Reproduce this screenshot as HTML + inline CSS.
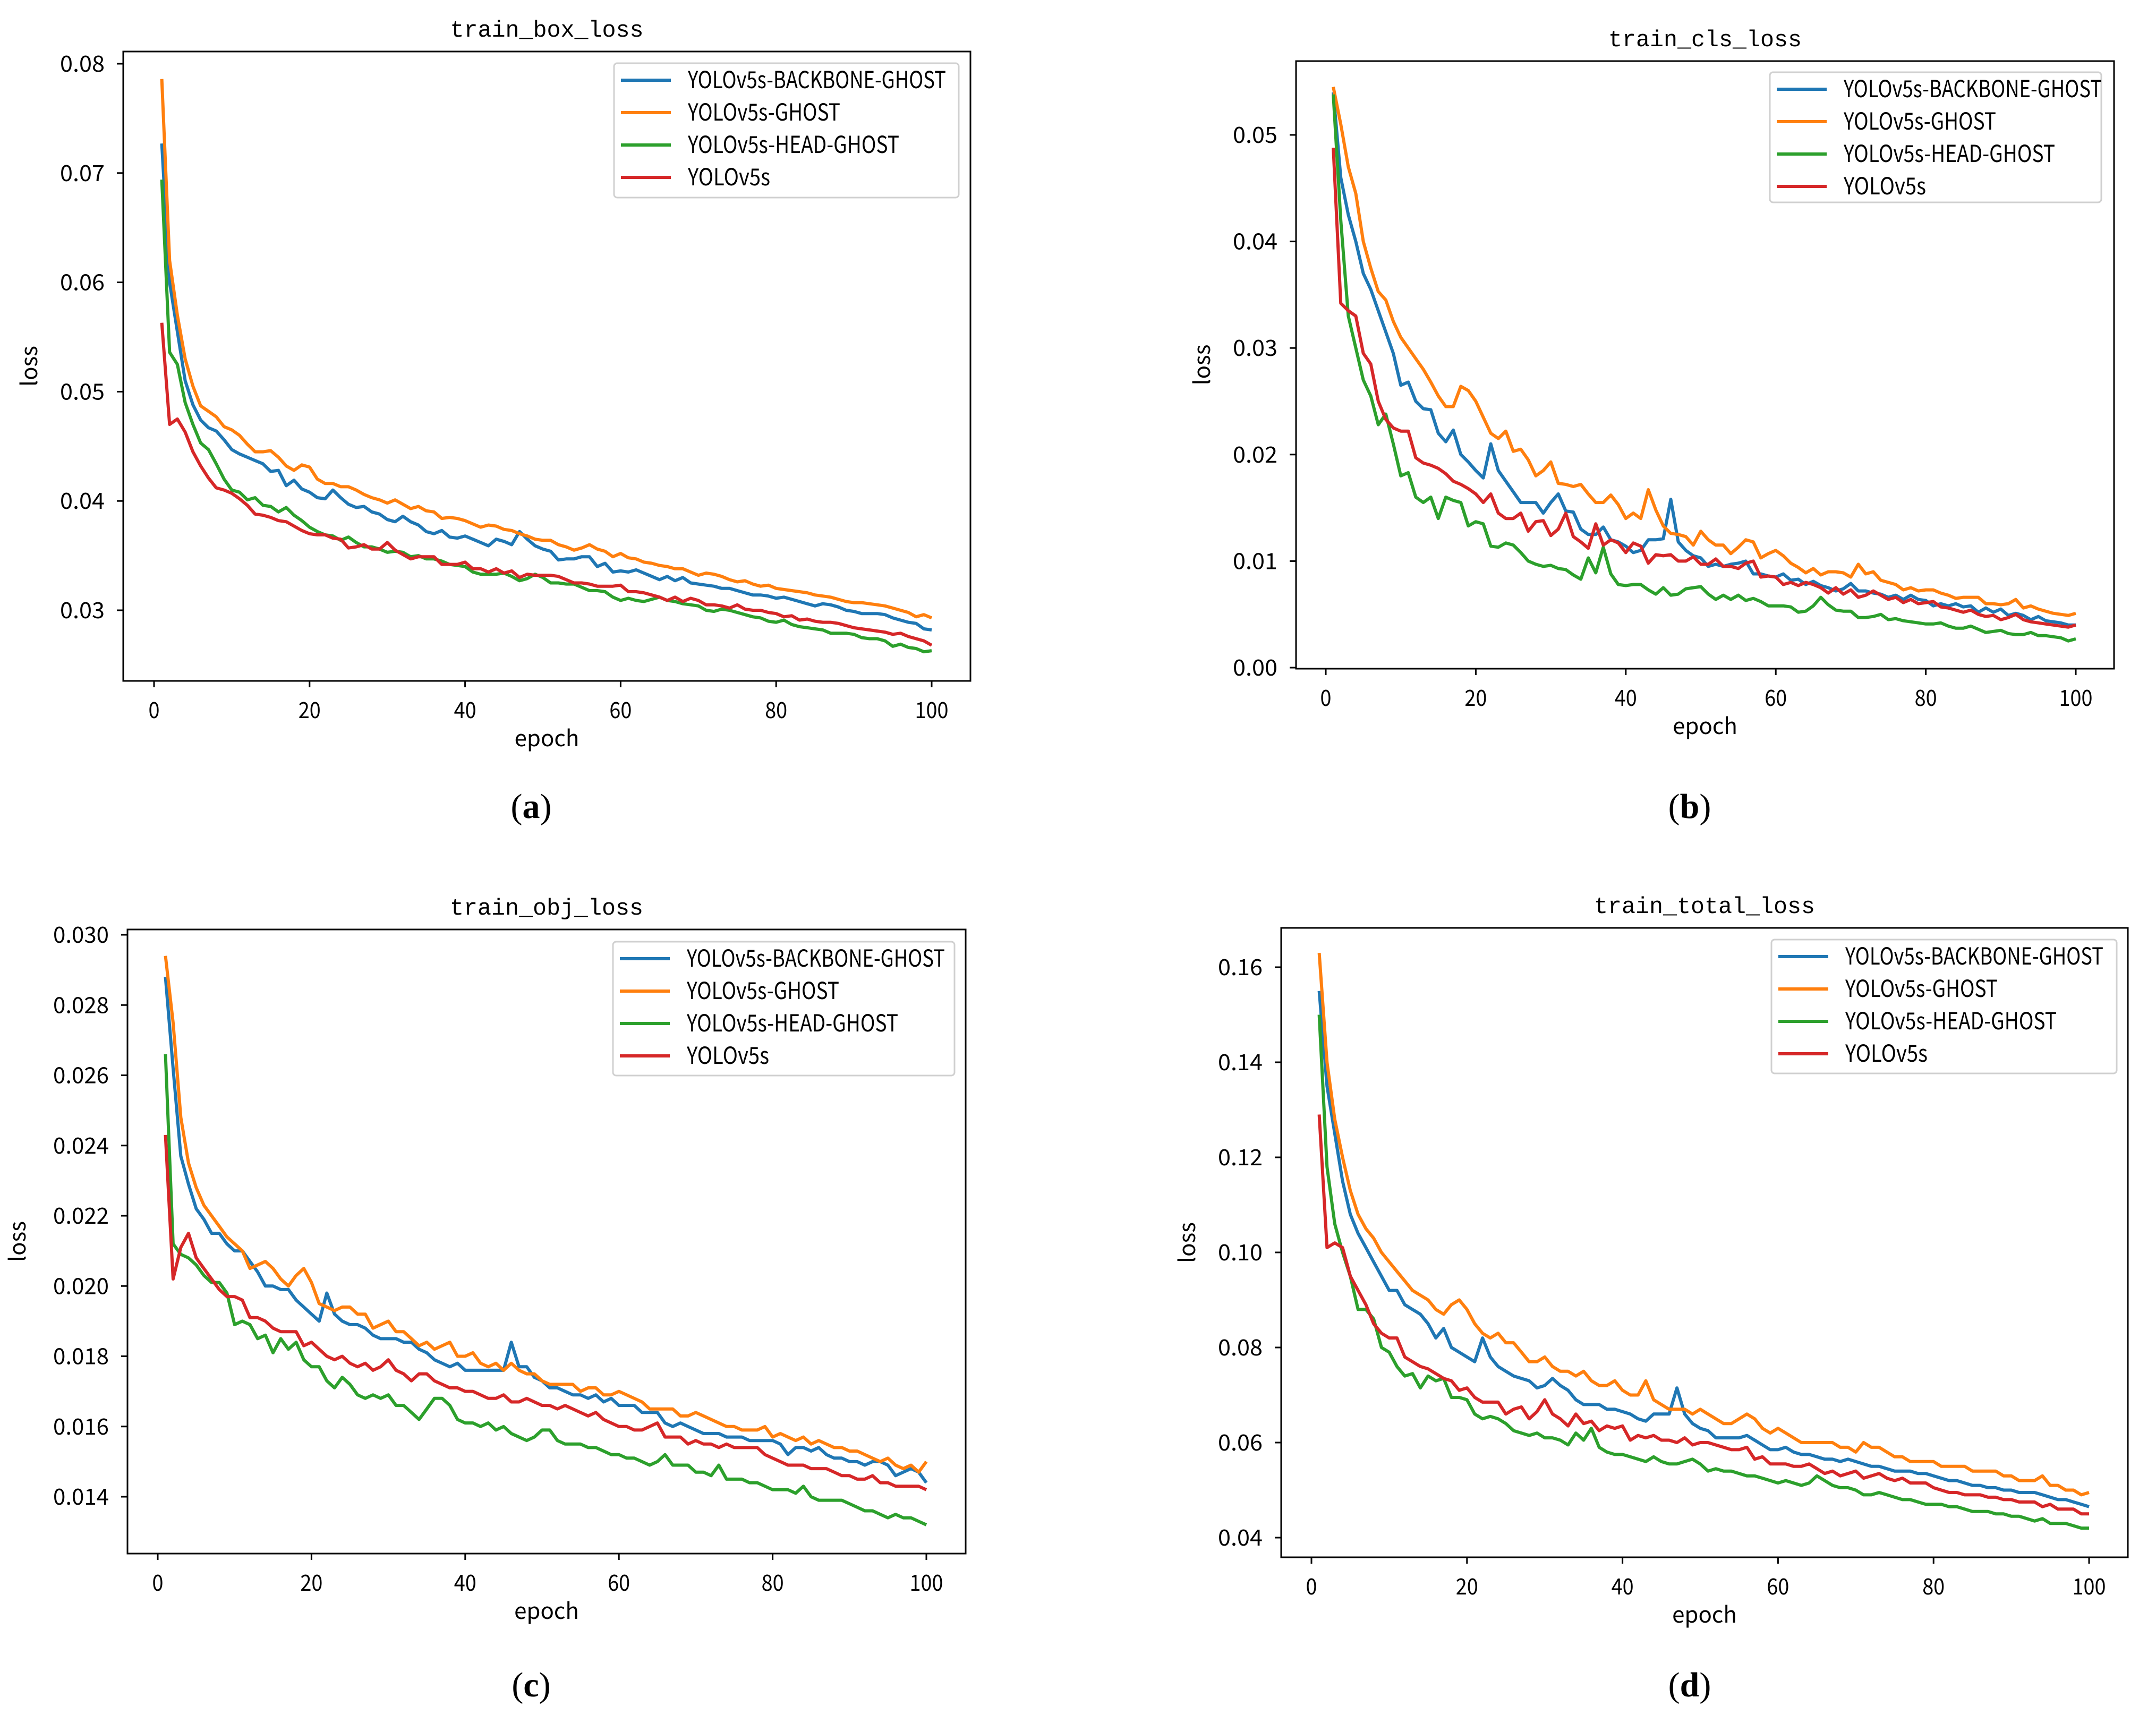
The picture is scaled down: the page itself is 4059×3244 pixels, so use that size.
<!DOCTYPE html>
<html><head><meta charset="utf-8"><style>
html,body{margin:0;padding:0;background:#fff}
svg{display:block}
text{font-family:"WenQuanYi Zen Hei","Noto Sans CJK SC","Liberation Sans",sans-serif;fill:#000}
.title{font-family:"Liberation Mono","DejaVu Sans Mono",monospace;font-size:44px}
.tick{font-size:42px}
.leg{font-size:44px}
.plabel{font-family:"Liberation Serif",serif;font-size:66px}
</style></head><body>
<svg id="fig" width="4059" height="3244" viewBox="0 0 4059 3244" xmlns="http://www.w3.org/2000/svg"></svg>
<script>
const epochs = Array.from({length:100},(_,i)=>i+1);
const seriesNames = ["YOLOv5s-BACKBONE-GHOST","YOLOv5s-GHOST","YOLOv5s-HEAD-GHOST","YOLOv5s"];
const seriesColors = ["#1f77b4","#ff7f0e","#2ca02c","#d62728"];

const boxBackbone=[.0727,.060,.0555,.051,.0488,.0474,.0467,.0464,.0456,.0447,.0443,.044,.0437,.0434,.0427,.0428,.0414,.0419,.0411,.0408,.0403,.0402,.041,.0403,.0397,.0394,.0395,.039,.0388,.0383,.0381,.0386,.0381,.0378,.0372,.037,.0373,.0367,.0366,.0368,.0365,.0362,.0359,.0365,.0363,.036,.0372,.0365,.0359,.0356,.0354,.0346,.0347,.0347,.0349,.0349,.034,.0343,.0335,.0336,.0335,.0337,.0334,.0331,.0328,.0331,.0327,.033,.0325,.0324,.0323,.0322,.032,.032,.0318,.0316,.0314,.0314,.0313,.0311,.0312,.031,.0308,.0306,.0304,.0306,.0305,.0303,.03,.0299,.0297,.0297,.0297,.0296,.0293,.0291,.0289,.0288,.0283,.0282];
const boxGhost=[.0786,.062,.057,.053,.0505,.0487,.0482,.0477,.0468,.0465,.046,.0452,.0445,.0445,.0446,.044,.0432,.0428,.0433,.0431,.042,.0416,.0416,.0413,.0413,.041,.0406,.0403,.0401,.0398,.0401,.0397,.0393,.0395,.0391,.039,.0384,.0385,.0384,.0382,.0379,.0376,.0378,.0377,.0374,.0373,.037,.0368,.0365,.0364,.0364,.036,.0358,.0355,.0357,.036,.0356,.0354,.0349,.0352,.0348,.0347,.0344,.0343,.0341,.034,.0338,.0338,.0335,.0332,.0334,.0333,.0331,.0328,.0326,.0327,.0324,.0322,.0323,.032,.0319,.0318,.0317,.0316,.0314,.0313,.0312,.031,.0308,.0307,.0307,.0306,.0305,.0304,.0302,.03,.0298,.0294,.0296,.0293];
const boxHead=[.0694,.0536,.0525,.049,.047,.0453,.0447,.0434,.042,.041,.0408,.0401,.0403,.0396,.0395,.039,.0394,.0387,.0382,.0376,.0372,.0369,.0368,.0364,.0367,.0362,.0358,.0358,.0356,.0353,.0354,.0353,.0349,.035,.0347,.0347,.0345,.0342,.0341,.034,.0335,.0333,.0333,.0333,.0334,.0331,.0327,.0329,.0333,.033,.0325,.0325,.0324,.0324,.0321,.0318,.0318,.0317,.0312,.0309,.0311,.0309,.0308,.031,.0312,.0309,.0308,.0306,.0305,.0304,.03,.0299,.0301,.03,.0298,.0296,.0294,.0293,.029,.0289,.0291,.0287,.0285,.0284,.0283,.0282,.0279,.0279,.0279,.0278,.0275,.0274,.0274,.0272,.0267,.0269,.0266,.0265,.0262,.0263];
const boxBase=[.0563,.047,.0475,.0463,.0445,.0432,.0421,.0412,.041,.0407,.0402,.0396,.0388,.0387,.0385,.0382,.0381,.0377,.0373,.037,.0369,.0369,.0366,.0365,.0357,.0358,.036,.0356,.0356,.0362,.0355,.0351,.0347,.0349,.0349,.0349,.0342,.0342,.0342,.0344,.0338,.0338,.0335,.0338,.0334,.0336,.033,.0333,.0332,.0332,.0332,.0331,.0328,.0325,.0325,.0324,.0322,.0322,.0322,.0323,.0317,.0317,.0316,.0314,.0312,.0309,.0312,.0308,.0311,.0309,.0305,.0305,.0304,.0302,.0305,.0301,.03,.03,.0298,.0297,.0294,.0295,.0291,.0292,.029,.0289,.0289,.0288,.0286,.0284,.0283,.0282,.0281,.028,.0278,.0279,.0276,.0274,.0272,.0268];

const clsBackbone=[.054,.046,.0425,.040,.037,.0355,.0335,.0315,.0295,.0265,.0268,.025,.0243,.0242,.022,.0212,.0223,.020,.0193,.0185,.0178,.021,.0185,.0175,.0165,.0155,.0155,.0155,.0145,.0155,.0163,.0147,.0146,.013,.0125,.0125,.0132,.012,.0118,.0114,.0108,.011,.012,.012,.0121,.0158,.0118,.011,.0105,.0103,.0095,.0097,.0095,.0097,.0098,.01,.0088,.0088,.0086,.0085,.0088,.0082,.0083,.0078,.0081,.0077,.0075,.0072,.0074,.0079,.0072,.0072,.007,.0069,.0066,.0068,.0064,.0068,.0064,.0063,.0058,.006,.0058,.006,.0057,.0058,.0052,.0056,.0052,.0055,.0049,.0051,.0049,.0045,.0048,.0044,.0043,.0042,.004,.004];
const clsGhost=[.0545,.051,.047,.0445,.040,.0375,.0353,.0345,.0325,.031,.030,.029,.028,.0268,.0255,.0245,.0245,.0264,.026,.025,.0235,.022,.0215,.0222,.0203,.0205,.0195,.018,.0185,.0193,.0173,.0172,.017,.0172,.0163,.0155,.0155,.0162,.0153,.014,.0145,.014,.0167,.0148,.0133,.0126,.0125,.0123,.0115,.0128,.012,.0115,.0115,.0107,.0113,.012,.0118,.0103,.0107,.011,.0105,.0098,.0094,.0089,.0093,.0087,.009,.009,.0089,.0085,.0097,.0088,.009,.0082,.008,.0078,.0073,.0075,.0072,.0073,.0073,.007,.0068,.0065,.0066,.0066,.0066,.006,.006,.0059,.006,.0064,.0056,.0058,.0055,.0053,.0051,.005,.0049,.0051];
const clsHead=[.0538,.042,.033,.030,.027,.0255,.0228,.0238,.021,.018,.0183,.016,.0155,.016,.014,.016,.0157,.0155,.0133,.0137,.0135,.0114,.0113,.0117,.0115,.0108,.01,.0097,.0095,.0096,.0093,.0092,.0087,.0083,.0103,.0089,.0113,.0088,.0078,.0077,.0078,.0078,.0073,.0069,.0075,.0068,.0069,.0074,.0075,.0076,.0069,.0064,.0068,.0064,.0068,.0063,.0065,.0062,.0058,.0058,.0058,.0057,.0052,.0053,.0058,.0066,.0059,.0054,.0053,.0053,.0047,.0047,.0048,.005,.0045,.0046,.0044,.0043,.0042,.0041,.0041,.0042,.0039,.0037,.0037,.0039,.0036,.0033,.0034,.0035,.0032,.0031,.0031,.0033,.003,.003,.0029,.0028,.0025,.0027];
const clsBase=[.0488,.0342,.0335,.033,.0295,.0285,.025,.0233,.0225,.0222,.0222,.0197,.0192,.019,.0187,.0182,.0175,.0172,.0168,.0163,.0155,.0163,.0145,.014,.014,.0145,.0128,.0137,.0138,.0124,.013,.0145,.0123,.0118,.0112,.0135,.0115,.012,.0117,.0108,.0117,.0114,.0098,.0106,.0105,.0106,.01,.01,.0104,.0097,.0097,.0102,.0095,.0095,.0093,.0098,.01,.0085,.0086,.0085,.0078,.008,.0077,.008,.0078,.0075,.007,.0075,.0069,.0073,.0066,.0068,.0072,.0068,.0064,.0066,.0061,.0064,.006,.0061,.0062,.0057,.0056,.0054,.0052,.0054,.005,.0048,.0049,.0045,.0047,.005,.0045,.0043,.0042,.0041,.004,.0039,.0038,.004];

const objBackbone=[.0288,.0262,.0237,.0229,.0222,.0219,.0215,.0215,.0212,.021,.021,.0207,.0204,.02,.02,.0199,.0199,.0196,.0194,.0192,.019,.0198,.0192,.019,.0189,.0189,.0188,.0186,.0185,.0185,.0185,.0184,.0184,.0182,.0181,.0179,.0178,.0177,.0178,.0176,.0176,.0176,.0176,.0176,.0176,.0184,.0177,.0177,.0174,.0173,.0171,.0171,.017,.0169,.0169,.0168,.0169,.0167,.0168,.0166,.0166,.0166,.0164,.0164,.0164,.0161,.016,.0161,.016,.0159,.0158,.0158,.0158,.0157,.0157,.0157,.0156,.0156,.0156,.0156,.0155,.0152,.0154,.0154,.0153,.0154,.0152,.0151,.0151,.015,.015,.0149,.015,.015,.0149,.0146,.0147,.0148,.0147,.0144];
const objGhost=[.0294,.0275,.0248,.0235,.0228,.0223,.022,.0217,.0214,.0212,.021,.0205,.0206,.0207,.0205,.0202,.02,.0203,.0205,.0201,.0195,.0194,.0193,.0194,.0194,.0192,.0192,.0188,.0189,.019,.0187,.0187,.0185,.0183,.0184,.0182,.0183,.0184,.018,.018,.0181,.0178,.0177,.0178,.0176,.0178,.0176,.0175,.0175,.0173,.0172,.0172,.0172,.0172,.017,.0171,.0171,.0169,.0169,.017,.0169,.0168,.0167,.0165,.0165,.0165,.0165,.0163,.0163,.0164,.0163,.0162,.0161,.016,.016,.0159,.0159,.0159,.016,.0157,.0158,.0157,.0156,.0157,.0155,.0156,.0155,.0154,.0154,.0153,.0153,.0152,.0151,.015,.0151,.0149,.0148,.0149,.0147,.015];
const objHead=[.0266,.0212,.0209,.0208,.0206,.0203,.0201,.0201,.0198,.0189,.019,.0189,.0185,.0186,.0181,.0185,.0182,.0184,.0179,.0177,.0177,.0173,.0171,.0174,.0172,.0169,.0168,.0169,.0168,.0169,.0166,.0166,.0164,.0162,.0165,.0168,.0168,.0166,.0162,.0161,.0161,.016,.0161,.0159,.016,.0158,.0157,.0156,.0157,.0159,.0159,.0156,.0155,.0155,.0155,.0154,.0154,.0153,.0152,.0152,.0151,.0151,.015,.0149,.015,.0152,.0149,.0149,.0149,.0147,.0147,.0146,.0149,.0145,.0145,.0145,.0144,.0144,.0143,.0142,.0142,.0142,.0141,.0143,.014,.0139,.0139,.0139,.0139,.0138,.0137,.0136,.0136,.0135,.0134,.0135,.0134,.0134,.0133,.0132];
const objBase=[.0243,.0202,.0211,.0215,.0208,.0205,.0202,.0199,.0197,.0197,.0196,.0191,.0191,.019,.0188,.0187,.0187,.0187,.0183,.0184,.0182,.018,.0179,.018,.0178,.0177,.0178,.0176,.0177,.0179,.0176,.0175,.0173,.0175,.0175,.0173,.0172,.0171,.0171,.017,.017,.0169,.0168,.0168,.0169,.0167,.0167,.0168,.0167,.0166,.0166,.0165,.0166,.0165,.0164,.0163,.0164,.0162,.0161,.016,.016,.0159,.0159,.016,.0161,.0157,.0157,.0157,.0155,.0156,.0155,.0155,.0154,.0155,.0154,.0154,.0154,.0154,.0152,.0151,.015,.0149,.0149,.0149,.0148,.0148,.0148,.0147,.0146,.0146,.0145,.0145,.0146,.0144,.0144,.0143,.0143,.0143,.0143,.0142];

const totBackbone=[.155,.135,.125,.115,.108,.104,.101,.098,.095,.092,.092,.089,.088,.087,.085,.082,.084,.080,.079,.078,.077,.082,.078,.076,.075,.074,.0735,.073,.0715,.072,.0735,.072,.071,.069,.068,.068,.068,.067,.067,.0665,.066,.065,.0645,.066,.066,.066,.0715,.066,.064,.063,.0625,.061,.061,.061,.061,.0615,.0605,.0595,.0585,.0585,.059,.058,.0575,.0575,.057,.0565,.0565,.056,.0565,.056,.0555,.055,.055,.0545,.054,.054,.054,.0535,.0535,.053,.0525,.052,.052,.0515,.051,.051,.0505,.0505,.05,.05,.0495,.0495,.0495,.049,.0485,.048,.048,.0475,.047,.0465];
const totGhost=[.163,.14,.128,.12,.113,.108,.105,.103,.1,.098,.096,.094,.092,.091,.09,.088,.087,.089,.09,.088,.085,.083,.082,.083,.081,.081,.079,.077,.077,.078,.076,.075,.075,.074,.075,.073,.072,.072,.073,.071,.07,.07,.073,.069,.068,.067,.067,.067,.066,.067,.066,.065,.064,.064,.065,.066,.065,.063,.062,.063,.062,.061,.06,.06,.06,.06,.06,.059,.059,.058,.06,.059,.059,.058,.057,.057,.056,.056,.056,.056,.055,.055,.055,.055,.054,.054,.054,.054,.053,.053,.052,.052,.052,.053,.051,.051,.05,.05,.049,.0495];
const totHead=[.15,.118,.106,.1,.095,.088,.088,.086,.08,.079,.076,.074,.0745,.0715,.074,.073,.0735,.0695,.0695,.069,.066,.065,.0655,.065,.064,.0625,.062,.0615,.062,.061,.061,.0605,.0595,.062,.0605,.063,.059,.058,.0575,.0575,.057,.0565,.056,.057,.056,.0555,.0555,.056,.0565,.0555,.054,.0545,.054,.054,.0535,.053,.053,.0525,.052,.0515,.052,.0515,.051,.0515,.053,.052,.051,.0505,.0505,.05,.049,.049,.0495,.049,.0485,.048,.048,.0475,.047,.047,.047,.0465,.0465,.046,.0455,.0455,.0455,.045,.045,.0445,.0445,.044,.0435,.044,.043,.043,.043,.0425,.042,.042];
const totBase=[.129,.101,.102,.101,.095,.092,.089,.085,.083,.082,.082,.078,.077,.076,.0755,.0745,.0735,.073,.071,.0715,.0695,.0685,.0685,.0685,.066,.067,.0675,.065,.0665,.069,.066,.065,.0635,.066,.064,.0645,.0625,.0635,.063,.0635,.0605,.0615,.061,.0615,.0605,.0605,.06,.061,.0595,.06,.06,.0595,.059,.0585,.0585,.059,.0565,.057,.0555,.0555,.0555,.055,.055,.0555,.0545,.0535,.054,.053,.0535,.054,.0525,.053,.0535,.0525,.052,.0525,.0515,.0515,.0515,.0505,.05,.0495,.0495,.049,.049,.049,.0485,.0485,.048,.048,.0475,.0475,.0475,.0465,.047,.046,.046,.046,.045,.045];

const xTicks=[0,20,40,60,80,100];
const boxYTicks=[0.03,0.04,0.05,0.06,0.07,0.08];
const clsYTicks=[0.00,0.01,0.02,0.03,0.04,0.05];
const objYTicks=[0.014,0.016,0.018,0.020,0.022,0.024,0.026,0.028,0.030];
const totYTicks=[0.04,0.06,0.08,0.10,0.12,0.14,0.16];

const panels=[
 {key:"box",title:"train_box_loss",label:"a",data:[boxBackbone,boxGhost,boxHead,boxBase],yt:boxYTicks,dec:2,
  box:[232,97,1827,1282],x0:290,x100:1754,yA:[0.08,120],yB:[0.03,1149],leg:[1156,119,1805,372],plx:1000,ply:1540},
 {key:"cls",title:"train_cls_loss",label:"b",data:[clsBackbone,clsGhost,clsHead,clsBase],yt:clsYTicks,dec:2,
  box:[2440,115,3980,1259],x0:2496,x100:3908,yA:[0.05,254],yB:[0.0,1257],leg:[3332,136,3956,381],plx:3181,ply:1540},
 {key:"obj",title:"train_obj_loss",label:"c",data:[objBackbone,objGhost,objHead,objBase],yt:objYTicks,dec:3,
  box:[240,1750,1818,2925],x0:297,x100:1744,yA:[0.030,1760],yB:[0.014,2818],leg:[1154,1773,1797,2025],plx:1000,ply:3194},
 {key:"total",title:"train_total_loss",label:"d",data:[totBackbone,totGhost,totHead,totBase],yt:totYTicks,dec:2,
  box:[2412,1747,4006,2932],x0:2469,x100:3933,yA:[0.16,1821],yB:[0.04,2895],leg:[3335,1769,3985,2021],plx:3181,ply:3194}
];

const NS="http://www.w3.org/2000/svg";
const svg=document.getElementById('fig');
function mk(tag,attrs,parent,txt){const e=document.createElementNS(NS,tag);for(const k in attrs)e.setAttribute(k,attrs[k]);if(txt!==undefined)e.textContent=txt;parent.appendChild(e);return e;}

panels.forEach(p=>{
  const g=mk('g',{},svg);
  
  
  const [L,T,R,B]=p.box;
  const xs=v=>p.x0+(v/100)*(p.x100-p.x0);
  const ys=v=>p.yB[1]+(v-p.yB[0])*(p.yA[1]-p.yB[1])/(p.yA[0]-p.yB[0]);
  const t=mk('text',{x:(L+R)/2,y:T-28,'text-anchor':'middle',class:'title',textLength:p.title.length*26,lengthAdjust:'spacingAndGlyphs'},g,p.title);
  
  
  const cp=mk('clipPath',{id:'clip-'+p.key},g);mk('rect',{x:L,y:T,width:R-L,height:B-T},cp);
  const sg=mk('g',{'clip-path':'url(#clip-'+p.key+')'},g);
  p.data.forEach((arr,si)=>{
    const d=arr.map((v,i)=>(i?'L':'M')+xs(epochs[i]).toFixed(1)+' '+ys(v).toFixed(1)).join(' ');
    const pa=mk('path',{d:d,fill:'none',stroke:seriesColors[si],'stroke-width':6,'stroke-linejoin':'round'},sg);
    
    
  });
  const fr=mk('rect',{x:L,y:T,width:R-L,height:B-T,fill:'none',stroke:'#000','stroke-width':3},g);
  
  
  xTicks.forEach(v=>{
    const x=xs(v);
    mk('line',{x1:x,y1:B,x2:x,y2:B+12,stroke:'#000','stroke-width':3},g);
    const s=String(v);
    const tl=mk('text',{x:x,y:B+70,'text-anchor':'middle',class:'tick',textLength:s.length*21,lengthAdjust:'spacingAndGlyphs'},g,s);
    
    
  });
  p.yt.forEach(v=>{
    const y=ys(v);
    mk('line',{x1:L,y1:y,x2:L-12,y2:y,stroke:'#000','stroke-width':3},g);
    const s=v.toFixed(p.dec);
    const tl=mk('text',{x:L-35,y:y+15,'text-anchor':'end',class:'tick',textLength:s.length*21,lengthAdjust:'spacingAndGlyphs'},g,s);
    
    
  });
  const xl=mk('text',{x:(L+R)/2,y:B+123,'text-anchor':'middle',class:'tick'},g,'epoch');
  
  
  const yw=p.dec===3?200:170;
  const yl=mk('text',{x:0,y:0,'text-anchor':'middle',class:'tick',transform:'translate('+(L-yw+8)+','+((T+B)/2)+') rotate(-90)'},g,'loss');
  
  
  const [lL,lT,lR,lB]=p.leg;
  const lg=mk('g',{},g);
  
  
  mk('rect',{x:lL,y:lT,width:lR-lL,height:lB-lT,rx:6,fill:'#fff','fill-opacity':0.85,stroke:'#d0d0d0','stroke-width':3},lg);
  const rowOff=[32,93,154,215];
  seriesNames.forEach((n,i)=>{
    const y=lT+rowOff[i];
    const e=mk('g',{},lg);
    
    
    mk('line',{x1:lL+13,y1:y,x2:lL+107,y2:y,stroke:seriesColors[i],'stroke-width':6},e);
    mk('text',{x:lL+139,y:y+15,class:'leg',textLength:Math.round(n.length*22.1),lengthAdjust:'spacingAndGlyphs'},e,n);
  });
  const pl=mk('text',{x:p.plx,y:p.ply,'text-anchor':'middle',class:'plabel'},g);
  
  
  mk('tspan',{},pl,'(');
  mk('tspan',{'font-weight':'bold'},pl,p.label);
  mk('tspan',{},pl,')');
});
</script>
</body></html>
